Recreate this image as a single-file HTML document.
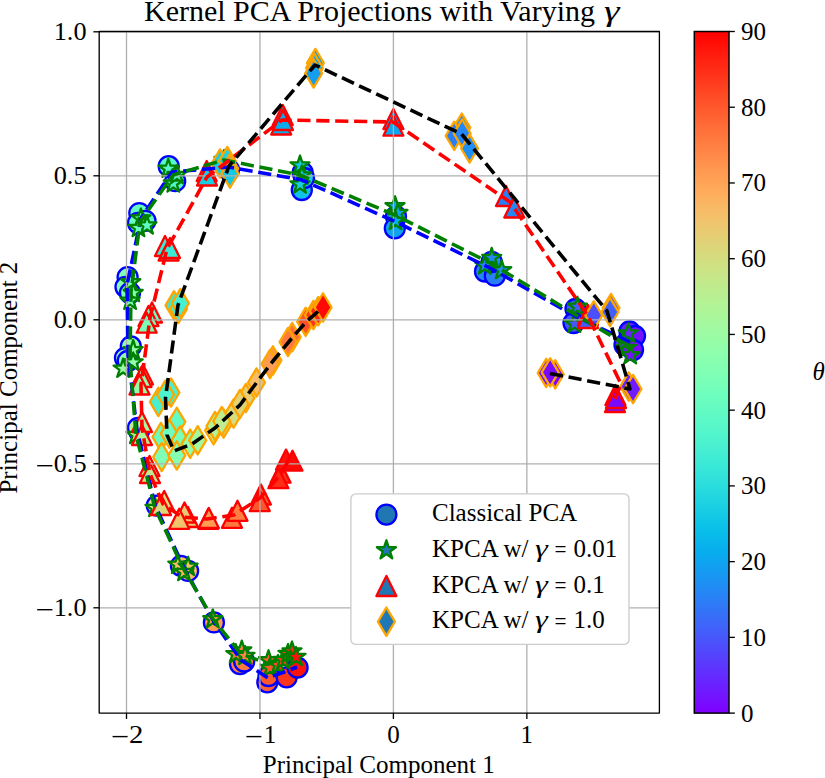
<!DOCTYPE html><html><head><meta charset="utf-8"><style>html,body{margin:0;padding:0;background:#fff;} svg{display:block} text{font-family:'Liberation Serif',serif;fill:#000}</style></head><body>
<svg width="825" height="778" viewBox="0 0 825 778">
<defs>
<clipPath id="ax"><rect x="99.2" y="31.5" width="560.1999999999999" height="681.6"/></clipPath>
<linearGradient id="cb" x1="0" y1="0" x2="0" y2="1"><stop offset="0.0000" stop-color="#ff0000"/><stop offset="0.0333" stop-color="#ff1b0d"/><stop offset="0.0667" stop-color="#ff351b"/><stop offset="0.1000" stop-color="#ff4f28"/><stop offset="0.1333" stop-color="#ff6835"/><stop offset="0.1667" stop-color="#ff7f42"/><stop offset="0.2000" stop-color="#ff964f"/><stop offset="0.2333" stop-color="#ffab5b"/><stop offset="0.2667" stop-color="#f6be68"/><stop offset="0.3000" stop-color="#e5ce74"/><stop offset="0.3333" stop-color="#d4dd80"/><stop offset="0.3667" stop-color="#c3e98b"/><stop offset="0.4000" stop-color="#b2f396"/><stop offset="0.4333" stop-color="#a2f9a0"/><stop offset="0.4667" stop-color="#90feab"/><stop offset="0.5000" stop-color="#80ffb4"/><stop offset="0.5333" stop-color="#6efebe"/><stop offset="0.5667" stop-color="#5ef9c6"/><stop offset="0.6000" stop-color="#4df3ce"/><stop offset="0.6333" stop-color="#3be9d6"/><stop offset="0.6667" stop-color="#2adddd"/><stop offset="0.7000" stop-color="#19cee3"/><stop offset="0.7333" stop-color="#08bee9"/><stop offset="0.7667" stop-color="#08abee"/><stop offset="0.8000" stop-color="#1996f3"/><stop offset="0.8333" stop-color="#2b7ff6"/><stop offset="0.8667" stop-color="#3c68f9"/><stop offset="0.9000" stop-color="#4c4ffc"/><stop offset="0.9333" stop-color="#5e35fe"/><stop offset="0.9667" stop-color="#6e1bff"/><stop offset="1.0000" stop-color="#8000ff"/></linearGradient>
</defs>
<rect width="825" height="778" fill="#fff"/>
<g clip-path="url(#ax)">
<circle cx="629.5" cy="331.5" r="10.00" fill="#6923fe" stroke="#0000ff" stroke-width="2.3"/>
<circle cx="635.0" cy="336.0" r="10.00" fill="#7412ff" stroke="#0000ff" stroke-width="2.3"/>
<circle cx="624.5" cy="345.0" r="10.00" fill="#632cfe" stroke="#0000ff" stroke-width="2.3"/>
<circle cx="633.0" cy="350.0" r="10.00" fill="#7a09ff" stroke="#0000ff" stroke-width="2.3"/>
<circle cx="575.5" cy="309.0" r="10.00" fill="#4160fa" stroke="#0000ff" stroke-width="2.3"/>
<circle cx="573.5" cy="323.0" r="10.00" fill="#4757fb" stroke="#0000ff" stroke-width="2.3"/>
<circle cx="485.0" cy="271.5" r="10.00" fill="#2587f5" stroke="#0000ff" stroke-width="2.3"/>
<circle cx="494.8" cy="275.7" r="10.00" fill="#2b7ff6" stroke="#0000ff" stroke-width="2.3"/>
<circle cx="491.7" cy="262.0" r="10.00" fill="#1f8ff4" stroke="#0000ff" stroke-width="2.3"/>
<circle cx="396.0" cy="216.5" r="10.00" fill="#08abee" stroke="#0000ff" stroke-width="2.3"/>
<circle cx="394.8" cy="228.3" r="10.00" fill="#0ea4f0" stroke="#0000ff" stroke-width="2.3"/>
<circle cx="302.7" cy="172.7" r="10.00" fill="#14c9e5" stroke="#0000ff" stroke-width="2.3"/>
<circle cx="301.8" cy="190.0" r="10.00" fill="#0ec3e7" stroke="#0000ff" stroke-width="2.3"/>
<circle cx="304.0" cy="178.0" r="10.00" fill="#19cee3" stroke="#0000ff" stroke-width="2.3"/>
<circle cx="229.0" cy="170.0" r="10.00" fill="#25d8df" stroke="#0000ff" stroke-width="2.3"/>
<circle cx="168.7" cy="166.2" r="10.00" fill="#58f7c9" stroke="#0000ff" stroke-width="2.3"/>
<circle cx="175.2" cy="181.2" r="10.00" fill="#52f5cc" stroke="#0000ff" stroke-width="2.3"/>
<circle cx="139.3" cy="213.1" r="10.00" fill="#63fbc3" stroke="#0000ff" stroke-width="2.3"/>
<circle cx="145.5" cy="220.8" r="10.00" fill="#5ef9c6" stroke="#0000ff" stroke-width="2.3"/>
<circle cx="138.0" cy="223.0" r="10.00" fill="#69fdc0" stroke="#0000ff" stroke-width="2.3"/>
<circle cx="127.6" cy="277.2" r="10.00" fill="#80ffb4" stroke="#0000ff" stroke-width="2.3"/>
<circle cx="125.5" cy="287.0" r="10.00" fill="#85ffb1" stroke="#0000ff" stroke-width="2.3"/>
<circle cx="130.0" cy="293.0" r="10.00" fill="#7affb7" stroke="#0000ff" stroke-width="2.3"/>
<circle cx="130.8" cy="346.4" r="10.00" fill="#96fda7" stroke="#0000ff" stroke-width="2.3"/>
<circle cx="125.0" cy="358.0" r="10.00" fill="#9cfba4" stroke="#0000ff" stroke-width="2.3"/>
<circle cx="127.8" cy="361.0" r="10.00" fill="#90feab" stroke="#0000ff" stroke-width="2.3"/>
<circle cx="139.0" cy="431.0" r="10.00" fill="#b2f396" stroke="#0000ff" stroke-width="2.3"/>
<circle cx="138.0" cy="428.0" r="10.00" fill="#b8f092" stroke="#0000ff" stroke-width="2.3"/>
<circle cx="156.8" cy="505.6" r="10.00" fill="#cfe183" stroke="#0000ff" stroke-width="2.3"/>
<circle cx="180.9" cy="565.8" r="10.00" fill="#f6be68" stroke="#0000ff" stroke-width="2.3"/>
<circle cx="188.1" cy="570.9" r="10.00" fill="#fcb764" stroke="#0000ff" stroke-width="2.3"/>
<circle cx="213.9" cy="622.4" r="10.00" fill="#ff9d53" stroke="#0000ff" stroke-width="2.3"/>
<circle cx="240.0" cy="664.0" r="10.00" fill="#ff7f42" stroke="#0000ff" stroke-width="2.3"/>
<circle cx="244.2" cy="661.5" r="10.00" fill="#ff783e" stroke="#0000ff" stroke-width="2.3"/>
<circle cx="267.3" cy="682.3" r="10.00" fill="#ff6031" stroke="#0000ff" stroke-width="2.3"/>
<circle cx="268.5" cy="676.0" r="10.00" fill="#ff572c" stroke="#0000ff" stroke-width="2.3"/>
<circle cx="286.7" cy="677.3" r="10.00" fill="#ff351b" stroke="#0000ff" stroke-width="2.3"/>
<circle cx="297.6" cy="667.6" r="10.00" fill="#ff1209" stroke="#0000ff" stroke-width="2.3"/>
<path d="M628.30,323.50 L626.05,330.41 L618.79,330.41 L624.67,334.68 L622.42,341.59 L628.30,337.32 L634.18,341.59 L631.93,334.68 L637.81,330.41 L630.55,330.41 Z" fill="#6923fe" stroke="#008000" stroke-width="2.3" stroke-linejoin="round"/>
<path d="M626.50,338.00 L624.25,344.91 L616.99,344.91 L622.87,349.18 L620.62,356.09 L626.50,351.82 L632.38,356.09 L630.13,349.18 L636.01,344.91 L628.75,344.91 Z" fill="#6e1bff" stroke="#008000" stroke-width="2.3" stroke-linejoin="round"/>
<path d="M630.20,345.30 L627.95,352.21 L620.69,352.21 L626.57,356.48 L624.32,363.39 L630.20,359.12 L636.08,363.39 L633.83,356.48 L639.71,352.21 L632.45,352.21 Z" fill="#7412ff" stroke="#008000" stroke-width="2.3" stroke-linejoin="round"/>
<path d="M624.00,332.00 L621.75,338.91 L614.49,338.91 L620.37,343.18 L618.12,350.09 L624.00,345.82 L629.88,350.09 L627.63,343.18 L633.51,338.91 L626.25,338.91 Z" fill="#632cfe" stroke="#008000" stroke-width="2.3" stroke-linejoin="round"/>
<path d="M577.40,296.80 L575.15,303.71 L567.89,303.71 L573.77,307.98 L571.52,314.89 L577.40,310.62 L583.28,314.89 L581.03,307.98 L586.91,303.71 L579.65,303.71 Z" fill="#4160fa" stroke="#008000" stroke-width="2.3" stroke-linejoin="round"/>
<path d="M574.40,313.80 L572.15,320.71 L564.89,320.71 L570.77,324.98 L568.52,331.89 L574.40,327.62 L580.28,331.89 L578.03,324.98 L583.91,320.71 L576.65,320.71 Z" fill="#4757fb" stroke="#008000" stroke-width="2.3" stroke-linejoin="round"/>
<path d="M491.70,247.90 L489.45,254.81 L482.19,254.81 L488.07,259.08 L485.82,265.99 L491.70,261.72 L497.58,265.99 L495.33,259.08 L501.21,254.81 L493.95,254.81 Z" fill="#2587f5" stroke="#008000" stroke-width="2.3" stroke-linejoin="round"/>
<path d="M484.70,255.60 L482.45,262.51 L475.19,262.51 L481.07,266.78 L478.82,273.69 L484.70,269.42 L490.58,273.69 L488.33,266.78 L494.21,262.51 L486.95,262.51 Z" fill="#2b7ff6" stroke="#008000" stroke-width="2.3" stroke-linejoin="round"/>
<path d="M501.70,260.30 L499.45,267.21 L492.19,267.21 L498.07,271.48 L495.82,278.39 L501.70,274.12 L507.58,278.39 L505.33,271.48 L511.21,267.21 L503.95,267.21 Z" fill="#1f8ff4" stroke="#008000" stroke-width="2.3" stroke-linejoin="round"/>
<path d="M395.00,196.30 L392.75,203.21 L385.49,203.21 L391.37,207.48 L389.12,214.39 L395.00,210.12 L400.88,214.39 L398.63,207.48 L404.51,203.21 L397.25,203.21 Z" fill="#08abee" stroke="#008000" stroke-width="2.3" stroke-linejoin="round"/>
<path d="M398.00,203.00 L395.75,209.91 L388.49,209.91 L394.37,214.18 L392.12,221.09 L398.00,216.82 L403.88,221.09 L401.63,214.18 L407.51,209.91 L400.25,209.91 Z" fill="#0ea4f0" stroke="#008000" stroke-width="2.3" stroke-linejoin="round"/>
<path d="M395.50,211.00 L393.25,217.91 L385.99,217.91 L391.87,222.18 L389.62,229.09 L395.50,224.82 L401.38,229.09 L399.13,222.18 L405.01,217.91 L397.75,217.91 Z" fill="#03b1ec" stroke="#008000" stroke-width="2.3" stroke-linejoin="round"/>
<path d="M300.00,155.50 L297.75,162.41 L290.49,162.41 L296.37,166.68 L294.12,173.59 L300.00,169.32 L305.88,173.59 L303.63,166.68 L309.51,162.41 L302.25,162.41 Z" fill="#14c9e5" stroke="#008000" stroke-width="2.3" stroke-linejoin="round"/>
<path d="M301.80,165.50 L299.55,172.41 L292.29,172.41 L298.17,176.68 L295.92,183.59 L301.80,179.32 L307.68,183.59 L305.43,176.68 L311.31,172.41 L304.05,172.41 Z" fill="#0ec3e7" stroke="#008000" stroke-width="2.3" stroke-linejoin="round"/>
<path d="M300.00,174.50 L297.75,181.41 L290.49,181.41 L296.37,185.68 L294.12,192.59 L300.00,188.32 L305.88,192.59 L303.63,185.68 L309.51,181.41 L302.25,181.41 Z" fill="#19cee3" stroke="#008000" stroke-width="2.3" stroke-linejoin="round"/>
<path d="M224.00,150.00 L221.75,156.91 L214.49,156.91 L220.37,161.18 L218.12,168.09 L224.00,163.82 L229.88,168.09 L227.63,161.18 L233.51,156.91 L226.25,156.91 Z" fill="#25d8df" stroke="#008000" stroke-width="2.3" stroke-linejoin="round"/>
<path d="M168.30,158.80 L166.05,165.71 L158.79,165.71 L164.67,169.98 L162.42,176.89 L168.30,172.62 L174.18,176.89 L171.93,169.98 L177.81,165.71 L170.55,165.71 Z" fill="#58f7c9" stroke="#008000" stroke-width="2.3" stroke-linejoin="round"/>
<path d="M173.30,173.60 L171.05,180.51 L163.79,180.51 L169.67,184.78 L167.42,191.69 L173.30,187.42 L179.18,191.69 L176.93,184.78 L182.81,180.51 L175.55,180.51 Z" fill="#52f5cc" stroke="#008000" stroke-width="2.3" stroke-linejoin="round"/>
<path d="M177.00,165.00 L174.75,171.91 L167.49,171.91 L173.37,176.18 L171.12,183.09 L177.00,178.82 L182.88,183.09 L180.63,176.18 L186.51,171.91 L179.25,171.91 Z" fill="#4df3ce" stroke="#008000" stroke-width="2.3" stroke-linejoin="round"/>
<path d="M140.90,208.50 L138.65,215.41 L131.39,215.41 L137.27,219.68 L135.02,226.59 L140.90,222.32 L146.78,226.59 L144.53,219.68 L150.41,215.41 L143.15,215.41 Z" fill="#63fbc3" stroke="#008000" stroke-width="2.3" stroke-linejoin="round"/>
<path d="M138.50,218.00 L136.25,224.91 L128.99,224.91 L134.87,229.18 L132.62,236.09 L138.50,231.82 L144.38,236.09 L142.13,229.18 L148.01,224.91 L140.75,224.91 Z" fill="#69fdc0" stroke="#008000" stroke-width="2.3" stroke-linejoin="round"/>
<path d="M147.00,215.50 L144.75,222.41 L137.49,222.41 L143.37,226.68 L141.12,233.59 L147.00,229.32 L152.88,233.59 L150.63,226.68 L156.51,222.41 L149.25,222.41 Z" fill="#5ef9c6" stroke="#008000" stroke-width="2.3" stroke-linejoin="round"/>
<path d="M130.80,272.30 L128.55,279.21 L121.29,279.21 L127.17,283.48 L124.92,290.39 L130.80,286.12 L136.68,290.39 L134.43,283.48 L140.31,279.21 L133.05,279.21 Z" fill="#80ffb4" stroke="#008000" stroke-width="2.3" stroke-linejoin="round"/>
<path d="M133.20,283.10 L130.95,290.01 L123.69,290.01 L129.57,294.28 L127.32,301.19 L133.20,296.92 L139.08,301.19 L136.83,294.28 L142.71,290.01 L135.45,290.01 Z" fill="#85ffb1" stroke="#008000" stroke-width="2.3" stroke-linejoin="round"/>
<path d="M130.10,290.80 L127.85,297.71 L120.59,297.71 L126.47,301.98 L124.22,308.89 L130.10,304.62 L135.98,308.89 L133.73,301.98 L139.61,297.71 L132.35,297.71 Z" fill="#7affb7" stroke="#008000" stroke-width="2.3" stroke-linejoin="round"/>
<path d="M133.20,340.20 L130.95,347.11 L123.69,347.11 L129.57,351.38 L127.32,358.29 L133.20,354.02 L139.08,358.29 L136.83,351.38 L142.71,347.11 L135.45,347.11 Z" fill="#96fda7" stroke="#008000" stroke-width="2.3" stroke-linejoin="round"/>
<path d="M133.20,352.50 L130.95,359.41 L123.69,359.41 L129.57,363.68 L127.32,370.59 L133.20,366.32 L139.08,370.59 L136.83,363.68 L142.71,359.41 L135.45,359.41 Z" fill="#90feab" stroke="#008000" stroke-width="2.3" stroke-linejoin="round"/>
<path d="M123.10,358.70 L120.85,365.61 L113.59,365.61 L119.47,369.88 L117.22,376.79 L123.10,372.52 L128.98,376.79 L126.73,369.88 L132.61,365.61 L125.35,365.61 Z" fill="#9cfba4" stroke="#008000" stroke-width="2.3" stroke-linejoin="round"/>
<path d="M136.00,425.00 L133.75,431.91 L126.49,431.91 L132.37,436.18 L130.12,443.09 L136.00,438.82 L141.88,443.09 L139.63,436.18 L145.51,431.91 L138.25,431.91 Z" fill="#b2f396" stroke="#008000" stroke-width="2.3" stroke-linejoin="round"/>
<path d="M155.00,498.00 L152.75,504.91 L145.49,504.91 L151.37,509.18 L149.12,516.09 L155.00,511.82 L160.88,516.09 L158.63,509.18 L164.51,504.91 L157.25,504.91 Z" fill="#cfe183" stroke="#008000" stroke-width="2.3" stroke-linejoin="round"/>
<path d="M177.80,554.70 L175.55,561.61 L168.29,561.61 L174.17,565.88 L171.92,572.79 L177.80,568.52 L183.68,572.79 L181.43,565.88 L187.31,561.61 L180.05,561.61 Z" fill="#f6be68" stroke="#008000" stroke-width="2.3" stroke-linejoin="round"/>
<path d="M188.10,556.80 L185.85,563.71 L178.59,563.71 L184.47,567.98 L182.22,574.89 L188.10,570.62 L193.98,574.89 L191.73,567.98 L197.61,563.71 L190.35,563.71 Z" fill="#f1c36c" stroke="#008000" stroke-width="2.3" stroke-linejoin="round"/>
<path d="M184.00,562.00 L181.75,568.91 L174.49,568.91 L180.37,573.18 L178.12,580.09 L184.00,575.82 L189.88,580.09 L187.63,573.18 L193.51,568.91 L186.25,568.91 Z" fill="#fcb764" stroke="#008000" stroke-width="2.3" stroke-linejoin="round"/>
<path d="M212.80,609.30 L210.55,616.21 L203.29,616.21 L209.17,620.48 L206.92,627.39 L212.80,623.12 L218.68,627.39 L216.43,620.48 L222.31,616.21 L215.05,616.21 Z" fill="#ff9d53" stroke="#008000" stroke-width="2.3" stroke-linejoin="round"/>
<path d="M241.80,640.60 L239.55,647.51 L232.29,647.51 L238.17,651.78 L235.92,658.69 L241.80,654.42 L247.68,658.69 L245.43,651.78 L251.31,647.51 L244.05,647.51 Z" fill="#ff7f42" stroke="#008000" stroke-width="2.3" stroke-linejoin="round"/>
<path d="M235.80,644.20 L233.55,651.11 L226.29,651.11 L232.17,655.38 L229.92,662.29 L235.80,658.02 L241.68,662.29 L239.43,655.38 L245.31,651.11 L238.05,651.11 Z" fill="#ff783e" stroke="#008000" stroke-width="2.3" stroke-linejoin="round"/>
<path d="M245.00,646.00 L242.75,652.91 L235.49,652.91 L241.37,657.18 L239.12,664.09 L245.00,659.82 L250.88,664.09 L248.63,657.18 L254.51,652.91 L247.25,652.91 Z" fill="#ff8746" stroke="#008000" stroke-width="2.3" stroke-linejoin="round"/>
<path d="M268.50,650.30 L266.25,657.21 L258.99,657.21 L264.87,661.48 L262.62,668.39 L268.50,664.12 L274.38,668.39 L272.13,661.48 L278.01,657.21 L270.75,657.21 Z" fill="#ff6031" stroke="#008000" stroke-width="2.3" stroke-linejoin="round"/>
<path d="M270.00,658.00 L267.75,664.91 L260.49,664.91 L266.37,669.18 L264.12,676.09 L270.00,671.82 L275.88,676.09 L273.63,669.18 L279.51,664.91 L272.25,664.91 Z" fill="#ff572c" stroke="#008000" stroke-width="2.3" stroke-linejoin="round"/>
<path d="M278.00,655.00 L275.75,661.91 L268.49,661.91 L274.37,666.18 L272.12,673.09 L278.00,668.82 L283.88,673.09 L281.63,666.18 L287.51,661.91 L280.25,661.91 Z" fill="#ff4623" stroke="#008000" stroke-width="2.3" stroke-linejoin="round"/>
<path d="M283.00,650.00 L280.75,656.91 L273.49,656.91 L279.37,661.18 L277.12,668.09 L283.00,663.82 L288.88,668.09 L286.63,661.18 L292.51,656.91 L285.25,656.91 Z" fill="#ff3e1f" stroke="#008000" stroke-width="2.3" stroke-linejoin="round"/>
<path d="M288.00,644.00 L285.75,650.91 L278.49,650.91 L284.37,655.18 L282.12,662.09 L288.00,657.82 L293.88,662.09 L291.63,655.18 L297.51,650.91 L290.25,650.91 Z" fill="#ff351b" stroke="#008000" stroke-width="2.3" stroke-linejoin="round"/>
<path d="M292.00,641.50 L289.75,648.41 L282.49,648.41 L288.37,652.68 L286.12,659.59 L292.00,655.32 L297.88,659.59 L295.63,652.68 L301.51,648.41 L294.25,648.41 Z" fill="#ff2c16" stroke="#008000" stroke-width="2.3" stroke-linejoin="round"/>
<path d="M296.00,647.00 L293.75,653.91 L286.49,653.91 L292.37,658.18 L290.12,665.09 L296.00,660.82 L301.88,665.09 L299.63,658.18 L305.51,653.91 L298.25,653.91 Z" fill="#ff1209" stroke="#008000" stroke-width="2.3" stroke-linejoin="round"/>
<path d="M615.40,385.00 L605.40,405.00 L625.40,405.00 Z" fill="#6e1bff" stroke="#ff0000" stroke-width="2.3" stroke-linejoin="round"/>
<path d="M615.00,392.00 L605.00,412.00 L625.00,412.00 Z" fill="#7412ff" stroke="#ff0000" stroke-width="2.3" stroke-linejoin="round"/>
<path d="M616.00,388.00 L606.00,408.00 L626.00,408.00 Z" fill="#7a09ff" stroke="#ff0000" stroke-width="2.3" stroke-linejoin="round"/>
<path d="M588.00,305.00 L578.00,325.00 L598.00,325.00 Z" fill="#4757fb" stroke="#ff0000" stroke-width="2.3" stroke-linejoin="round"/>
<path d="M588.00,308.00 L578.00,328.00 L598.00,328.00 Z" fill="#4160fa" stroke="#ff0000" stroke-width="2.3" stroke-linejoin="round"/>
<path d="M506.00,186.00 L496.00,206.00 L516.00,206.00 Z" fill="#2b7ff6" stroke="#ff0000" stroke-width="2.3" stroke-linejoin="round"/>
<path d="M514.30,197.50 L504.30,217.50 L524.30,217.50 Z" fill="#2587f5" stroke="#ff0000" stroke-width="2.3" stroke-linejoin="round"/>
<path d="M393.40,109.00 L383.40,129.00 L403.40,129.00 Z" fill="#149df1" stroke="#ff0000" stroke-width="2.3" stroke-linejoin="round"/>
<path d="M393.40,115.70 L383.40,135.70 L403.40,135.70 Z" fill="#0ea4f0" stroke="#ff0000" stroke-width="2.3" stroke-linejoin="round"/>
<path d="M282.80,105.00 L272.80,125.00 L292.80,125.00 Z" fill="#08abee" stroke="#ff0000" stroke-width="2.3" stroke-linejoin="round"/>
<path d="M281.20,114.50 L271.20,134.50 L291.20,134.50 Z" fill="#03b1ec" stroke="#ff0000" stroke-width="2.3" stroke-linejoin="round"/>
<path d="M283.00,110.00 L273.00,130.00 L293.00,130.00 Z" fill="#08abee" stroke="#ff0000" stroke-width="2.3" stroke-linejoin="round"/>
<path d="M206.70,161.00 L196.70,181.00 L216.70,181.00 Z" fill="#14c9e5" stroke="#ff0000" stroke-width="2.3" stroke-linejoin="round"/>
<path d="M207.00,165.50 L197.00,185.50 L217.00,185.50 Z" fill="#19cee3" stroke="#ff0000" stroke-width="2.3" stroke-linejoin="round"/>
<path d="M165.00,236.00 L155.00,256.00 L175.00,256.00 Z" fill="#3be9d6" stroke="#ff0000" stroke-width="2.3" stroke-linejoin="round"/>
<path d="M168.60,240.50 L158.60,260.50 L178.60,260.50 Z" fill="#41ecd3" stroke="#ff0000" stroke-width="2.3" stroke-linejoin="round"/>
<path d="M170.00,238.00 L160.00,258.00 L180.00,258.00 Z" fill="#3be9d6" stroke="#ff0000" stroke-width="2.3" stroke-linejoin="round"/>
<path d="M152.00,302.50 L142.00,322.50 L162.00,322.50 Z" fill="#6efebe" stroke="#ff0000" stroke-width="2.3" stroke-linejoin="round"/>
<path d="M148.50,306.00 L138.50,326.00 L158.50,326.00 Z" fill="#74feba" stroke="#ff0000" stroke-width="2.3" stroke-linejoin="round"/>
<path d="M146.70,312.70 L136.70,332.70 L156.70,332.70 Z" fill="#7affb7" stroke="#ff0000" stroke-width="2.3" stroke-linejoin="round"/>
<path d="M143.00,364.50 L133.00,384.50 L153.00,384.50 Z" fill="#8bfeae" stroke="#ff0000" stroke-width="2.3" stroke-linejoin="round"/>
<path d="M141.50,367.00 L131.50,387.00 L151.50,387.00 Z" fill="#90feab" stroke="#ff0000" stroke-width="2.3" stroke-linejoin="round"/>
<path d="M139.50,374.50 L129.50,394.50 L149.50,394.50 Z" fill="#96fda7" stroke="#ff0000" stroke-width="2.3" stroke-linejoin="round"/>
<path d="M142.00,412.00 L132.00,432.00 L152.00,432.00 Z" fill="#a7f79d" stroke="#ff0000" stroke-width="2.3" stroke-linejoin="round"/>
<path d="M142.00,425.00 L132.00,445.00 L152.00,445.00 Z" fill="#adf599" stroke="#ff0000" stroke-width="2.3" stroke-linejoin="round"/>
<path d="M149.50,456.00 L139.50,476.00 L159.50,476.00 Z" fill="#b8f092" stroke="#ff0000" stroke-width="2.3" stroke-linejoin="round"/>
<path d="M150.00,463.00 L140.00,483.00 L160.00,483.00 Z" fill="#beec8f" stroke="#ff0000" stroke-width="2.3" stroke-linejoin="round"/>
<path d="M164.20,491.00 L154.20,511.00 L174.20,511.00 Z" fill="#d4dd80" stroke="#ff0000" stroke-width="2.3" stroke-linejoin="round"/>
<path d="M161.00,495.00 L151.00,515.00 L171.00,515.00 Z" fill="#dad87c" stroke="#ff0000" stroke-width="2.3" stroke-linejoin="round"/>
<path d="M188.00,507.00 L178.00,527.00 L198.00,527.00 Z" fill="#ebc970" stroke="#ff0000" stroke-width="2.3" stroke-linejoin="round"/>
<path d="M184.50,502.50 L174.50,522.50 L194.50,522.50 Z" fill="#ebc970" stroke="#ff0000" stroke-width="2.3" stroke-linejoin="round"/>
<path d="M179.20,508.80 L169.20,528.80 L189.20,528.80 Z" fill="#f1c36c" stroke="#ff0000" stroke-width="2.3" stroke-linejoin="round"/>
<path d="M208.30,508.80 L198.30,528.80 L218.30,528.80 Z" fill="#ffa457" stroke="#ff0000" stroke-width="2.3" stroke-linejoin="round"/>
<path d="M208.80,508.00 L198.80,528.00 L218.80,528.00 Z" fill="#ff9d53" stroke="#ff0000" stroke-width="2.3" stroke-linejoin="round"/>
<path d="M232.00,507.80 L222.00,527.80 L242.00,527.80 Z" fill="#ff783e" stroke="#ff0000" stroke-width="2.3" stroke-linejoin="round"/>
<path d="M237.50,500.80 L227.50,520.80 L247.50,520.80 Z" fill="#ff7f42" stroke="#ff0000" stroke-width="2.3" stroke-linejoin="round"/>
<path d="M260.90,484.50 L250.90,504.50 L270.90,504.50 Z" fill="#ff6031" stroke="#ff0000" stroke-width="2.3" stroke-linejoin="round"/>
<path d="M259.80,491.10 L249.80,511.10 L269.80,511.10 Z" fill="#ff572c" stroke="#ff0000" stroke-width="2.3" stroke-linejoin="round"/>
<path d="M280.60,462.70 L270.60,482.70 L290.60,482.70 Z" fill="#ff351b" stroke="#ff0000" stroke-width="2.3" stroke-linejoin="round"/>
<path d="M278.40,468.20 L268.40,488.20 L288.40,488.20 Z" fill="#ff2c16" stroke="#ff0000" stroke-width="2.3" stroke-linejoin="round"/>
<path d="M286.00,449.60 L276.00,469.60 L296.00,469.60 Z" fill="#ff1209" stroke="#ff0000" stroke-width="2.3" stroke-linejoin="round"/>
<path d="M292.50,450.70 L282.50,470.70 L302.50,470.70 Z" fill="#ff0904" stroke="#ff0000" stroke-width="2.3" stroke-linejoin="round"/>
<path d="M546.20,358.86 L554.69,373.00 L546.20,387.14 L537.71,373.00 Z" fill="#7412ff" stroke="#ffa500" stroke-width="2.3" stroke-linejoin="round"/>
<path d="M555.20,360.16 L563.69,374.30 L555.20,388.44 L546.71,374.30 Z" fill="#8000ff" stroke="#ffa500" stroke-width="2.3" stroke-linejoin="round"/>
<path d="M550.20,358.16 L558.69,372.30 L550.20,386.44 L541.71,372.30 Z" fill="#7a09ff" stroke="#ffa500" stroke-width="2.3" stroke-linejoin="round"/>
<path d="M628.70,372.46 L637.19,386.60 L628.70,400.74 L620.21,386.60 Z" fill="#6923fe" stroke="#ffa500" stroke-width="2.3" stroke-linejoin="round"/>
<path d="M633.00,374.86 L641.49,389.00 L633.00,403.14 L624.51,389.00 Z" fill="#6e1bff" stroke="#ffa500" stroke-width="2.3" stroke-linejoin="round"/>
<path d="M593.80,301.16 L602.29,315.30 L593.80,329.44 L585.31,315.30 Z" fill="#4c4ffc" stroke="#ffa500" stroke-width="2.3" stroke-linejoin="round"/>
<path d="M611.00,293.86 L619.49,308.00 L611.00,322.14 L602.51,308.00 Z" fill="#4757fb" stroke="#ffa500" stroke-width="2.3" stroke-linejoin="round"/>
<path d="M610.00,297.86 L618.49,312.00 L610.00,326.14 L601.51,312.00 Z" fill="#4160fa" stroke="#ffa500" stroke-width="2.3" stroke-linejoin="round"/>
<path d="M461.80,113.56 L470.29,127.70 L461.80,141.84 L453.31,127.70 Z" fill="#2587f5" stroke="#ffa500" stroke-width="2.3" stroke-linejoin="round"/>
<path d="M454.20,121.66 L462.69,135.80 L454.20,149.94 L445.71,135.80 Z" fill="#2b7ff6" stroke="#ffa500" stroke-width="2.3" stroke-linejoin="round"/>
<path d="M462.20,119.36 L470.69,133.50 L462.20,147.64 L453.71,133.50 Z" fill="#2587f5" stroke="#ffa500" stroke-width="2.3" stroke-linejoin="round"/>
<path d="M469.60,134.36 L478.09,148.50 L469.60,162.64 L461.11,148.50 Z" fill="#1f8ff4" stroke="#ffa500" stroke-width="2.3" stroke-linejoin="round"/>
<path d="M315.40,48.86 L323.89,63.00 L315.40,77.14 L306.91,63.00 Z" fill="#0ea4f0" stroke="#ffa500" stroke-width="2.3" stroke-linejoin="round"/>
<path d="M314.50,53.86 L322.99,68.00 L314.50,82.14 L306.01,68.00 Z" fill="#08abee" stroke="#ffa500" stroke-width="2.3" stroke-linejoin="round"/>
<path d="M313.60,59.26 L322.09,73.40 L313.60,87.54 L305.11,73.40 Z" fill="#149df1" stroke="#ffa500" stroke-width="2.3" stroke-linejoin="round"/>
<path d="M220.00,149.36 L228.49,163.50 L220.00,177.64 L211.51,163.50 Z" fill="#19cee3" stroke="#ffa500" stroke-width="2.3" stroke-linejoin="round"/>
<path d="M227.30,146.86 L235.79,161.00 L227.30,175.14 L218.81,161.00 Z" fill="#1fd3e1" stroke="#ffa500" stroke-width="2.3" stroke-linejoin="round"/>
<path d="M229.70,154.46 L238.19,168.60 L229.70,182.74 L221.21,168.60 Z" fill="#25d8df" stroke="#ffa500" stroke-width="2.3" stroke-linejoin="round"/>
<path d="M230.00,159.46 L238.49,173.60 L230.00,187.74 L221.51,173.60 Z" fill="#14c9e5" stroke="#ffa500" stroke-width="2.3" stroke-linejoin="round"/>
<path d="M174.00,291.16 L182.49,305.30 L174.00,319.44 L165.51,305.30 Z" fill="#3be9d6" stroke="#ffa500" stroke-width="2.3" stroke-linejoin="round"/>
<path d="M178.50,294.66 L186.99,308.80 L178.50,322.94 L170.01,308.80 Z" fill="#41ecd3" stroke="#ffa500" stroke-width="2.3" stroke-linejoin="round"/>
<path d="M180.40,288.96 L188.89,303.10 L180.40,317.24 L171.91,303.10 Z" fill="#47f0d1" stroke="#ffa500" stroke-width="2.3" stroke-linejoin="round"/>
<path d="M158.40,387.76 L166.89,401.90 L158.40,416.04 L149.91,401.90 Z" fill="#47f0d1" stroke="#ffa500" stroke-width="2.3" stroke-linejoin="round"/>
<path d="M171.00,378.36 L179.49,392.50 L171.00,406.64 L162.51,392.50 Z" fill="#47f0d1" stroke="#ffa500" stroke-width="2.3" stroke-linejoin="round"/>
<path d="M165.50,380.36 L173.99,394.50 L165.50,408.64 L157.01,394.50 Z" fill="#4df3ce" stroke="#ffa500" stroke-width="2.3" stroke-linejoin="round"/>
<path d="M176.80,407.76 L185.29,421.90 L176.80,436.04 L168.31,421.90 Z" fill="#63fbc3" stroke="#ffa500" stroke-width="2.3" stroke-linejoin="round"/>
<path d="M160.90,422.86 L169.39,437.00 L160.90,451.14 L152.41,437.00 Z" fill="#69fdc0" stroke="#ffa500" stroke-width="2.3" stroke-linejoin="round"/>
<path d="M169.30,419.46 L177.79,433.60 L169.30,447.74 L160.81,433.60 Z" fill="#6efebe" stroke="#ffa500" stroke-width="2.3" stroke-linejoin="round"/>
<path d="M180.10,426.16 L188.59,440.30 L180.10,454.44 L171.61,440.30 Z" fill="#7affb7" stroke="#ffa500" stroke-width="2.3" stroke-linejoin="round"/>
<path d="M161.70,442.86 L170.19,457.00 L161.70,471.14 L153.21,457.00 Z" fill="#80ffb4" stroke="#ffa500" stroke-width="2.3" stroke-linejoin="round"/>
<path d="M176.80,441.26 L185.29,455.40 L176.80,469.54 L168.31,455.40 Z" fill="#85ffb1" stroke="#ffa500" stroke-width="2.3" stroke-linejoin="round"/>
<path d="M190.20,429.56 L198.69,443.70 L190.20,457.84 L181.71,443.70 Z" fill="#96fda7" stroke="#ffa500" stroke-width="2.3" stroke-linejoin="round"/>
<path d="M197.70,426.16 L206.19,440.30 L197.70,454.44 L189.21,440.30 Z" fill="#a2f9a0" stroke="#ffa500" stroke-width="2.3" stroke-linejoin="round"/>
<path d="M213.60,416.16 L222.09,430.30 L213.60,444.44 L205.11,430.30 Z" fill="#b8f092" stroke="#ffa500" stroke-width="2.3" stroke-linejoin="round"/>
<path d="M223.60,409.46 L232.09,423.60 L223.60,437.74 L215.11,423.60 Z" fill="#c9e587" stroke="#ffa500" stroke-width="2.3" stroke-linejoin="round"/>
<path d="M233.60,399.46 L242.09,413.60 L233.60,427.74 L225.11,413.60 Z" fill="#d4dd80" stroke="#ffa500" stroke-width="2.3" stroke-linejoin="round"/>
<path d="M215.00,411.86 L223.49,426.00 L215.00,440.14 L206.51,426.00 Z" fill="#b2f396" stroke="#ffa500" stroke-width="2.3" stroke-linejoin="round"/>
<path d="M221.80,406.96 L230.29,421.10 L221.80,435.24 L213.31,421.10 Z" fill="#beec8f" stroke="#ffa500" stroke-width="2.3" stroke-linejoin="round"/>
<path d="M245.90,383.86 L254.39,398.00 L245.90,412.14 L237.41,398.00 Z" fill="#e5ce74" stroke="#ffa500" stroke-width="2.3" stroke-linejoin="round"/>
<path d="M256.50,368.36 L264.99,382.50 L256.50,396.64 L248.01,382.50 Z" fill="#f6be68" stroke="#ffa500" stroke-width="2.3" stroke-linejoin="round"/>
<path d="M240.00,389.86 L248.49,404.00 L240.00,418.14 L231.51,404.00 Z" fill="#e0d378" stroke="#ffa500" stroke-width="2.3" stroke-linejoin="round"/>
<path d="M272.90,346.26 L281.39,360.40 L272.90,374.54 L264.41,360.40 Z" fill="#ff964f" stroke="#ffa500" stroke-width="2.3" stroke-linejoin="round"/>
<path d="M270.00,349.86 L278.49,364.00 L270.00,378.14 L261.51,364.00 Z" fill="#ff9d53" stroke="#ffa500" stroke-width="2.3" stroke-linejoin="round"/>
<path d="M292.20,323.06 L300.69,337.20 L292.20,351.34 L283.71,337.20 Z" fill="#ff7039" stroke="#ffa500" stroke-width="2.3" stroke-linejoin="round"/>
<path d="M288.00,327.86 L296.49,342.00 L288.00,356.14 L279.51,342.00 Z" fill="#ff783e" stroke="#ffa500" stroke-width="2.3" stroke-linejoin="round"/>
<path d="M305.70,307.66 L314.19,321.80 L305.70,335.94 L297.21,321.80 Z" fill="#ff4f28" stroke="#ffa500" stroke-width="2.3" stroke-linejoin="round"/>
<path d="M313.40,300.86 L321.89,315.00 L313.40,329.14 L304.91,315.00 Z" fill="#ff351b" stroke="#ffa500" stroke-width="2.3" stroke-linejoin="round"/>
<path d="M318.20,297.06 L326.69,311.20 L318.20,325.34 L309.71,311.20 Z" fill="#ff2312" stroke="#ffa500" stroke-width="2.3" stroke-linejoin="round"/>
<path d="M323.00,293.26 L331.49,307.40 L323.00,321.54 L314.51,307.40 Z" fill="#ff0904" stroke="#ffa500" stroke-width="2.3" stroke-linejoin="round"/>
</g>
<line x1="126.50" y1="31.5" x2="126.50" y2="713.1" stroke="#b0b0b0" stroke-width="1.33"/>
<line x1="259.95" y1="31.5" x2="259.95" y2="713.1" stroke="#b0b0b0" stroke-width="1.33"/>
<line x1="393.40" y1="31.5" x2="393.40" y2="713.1" stroke="#b0b0b0" stroke-width="1.33"/>
<line x1="526.85" y1="31.5" x2="526.85" y2="713.1" stroke="#b0b0b0" stroke-width="1.33"/>
<line x1="99.2" y1="607.80" x2="659.4" y2="607.80" stroke="#b0b0b0" stroke-width="1.33"/>
<line x1="99.2" y1="463.80" x2="659.4" y2="463.80" stroke="#b0b0b0" stroke-width="1.33"/>
<line x1="99.2" y1="319.80" x2="659.4" y2="319.80" stroke="#b0b0b0" stroke-width="1.33"/>
<line x1="99.2" y1="175.80" x2="659.4" y2="175.80" stroke="#b0b0b0" stroke-width="1.33"/>
<line x1="99.2" y1="31.80" x2="659.4" y2="31.80" stroke="#b0b0b0" stroke-width="1.33"/>
<g clip-path="url(#ax)">
<path d="M630.0,342.0 L575.0,316.0 L490.0,268.0 L395.0,221.5 L302.0,180.0 L229.0,167.0 L172.0,172.0 L141.0,218.0 L127.0,285.0 L128.0,355.0 L137.0,430.0 L155.0,505.0 L184.0,568.0 L214.0,622.0 L241.0,660.0 L268.0,678.0 L287.0,671.0 L297.0,667.0" fill="none" stroke="#0000ff" stroke-width="3.57" stroke-dasharray="13.21 5.71" stroke-linecap="butt" stroke-linejoin="round"/>
<path d="M627.0,345.0 L576.0,315.0 L492.0,264.0 L396.0,215.5 L300.0,175.0 L224.0,160.0 L173.0,175.0 L140.0,222.0 L131.0,292.0 L130.0,360.0 L136.0,435.0 L155.0,508.0 L183.0,568.0 L213.0,619.0 L241.0,654.0 L269.0,664.0 L292.0,651.0" fill="none" stroke="#008000" stroke-width="3.57" stroke-dasharray="13.21 5.71" stroke-linecap="butt" stroke-linejoin="round"/>
<path d="M615.0,399.0 L621.0,384.0 L588.0,316.0 L510.0,202.0 L393.0,122.0 L282.0,120.0 L207.0,177.0 L167.0,249.0 L150.0,318.0 L141.0,385.0 L142.0,428.0 L150.0,474.0 L163.0,504.0 L182.0,517.0 L207.0,519.0 L234.0,515.0 L260.0,498.0 L280.0,475.0 L289.0,460.0" fill="none" stroke="#ff0000" stroke-width="3.57" stroke-dasharray="13.21 5.71" stroke-linecap="butt" stroke-linejoin="round"/>
<path d="M550.0,373.5 L630.0,389.0 L607.0,311.0 L461.5,134.0 L315.0,65.0 L229.0,166.0 L178.0,305.0 L165.5,398.0 L167.0,435.0 L174.0,451.0 L192.0,444.0 L215.0,428.0 L240.0,405.0 L257.0,382.0 L273.0,361.0 L292.0,338.0 L306.0,322.0 L322.0,308.0" fill="none" stroke="#000000" stroke-width="3.57" stroke-dasharray="13.21 5.71" stroke-linecap="butt" stroke-linejoin="round"/>
</g>
<rect x="99.2" y="31.5" width="560.20" height="681.60" fill="none" stroke="#000" stroke-width="1.33" stroke-linejoin="round"/>
<line x1="126.50" y1="713.1" x2="126.50" y2="718.93" stroke="#000" stroke-width="1.33"/>
<rect x="112.6" y="735.90" width="15.00" height="1.4" fill="#000"/>
<text transform="translate(136.1,742.7) scale(1.15,1)" font-size="25" text-anchor="middle">2</text>
<line x1="259.95" y1="713.1" x2="259.95" y2="718.93" stroke="#000" stroke-width="1.33"/>
<rect x="246.4" y="735.90" width="15.00" height="1.4" fill="#000"/>
<text transform="translate(269.9,742.7) scale(1.0,1)" font-size="25" text-anchor="middle">1</text>
<line x1="393.40" y1="713.1" x2="393.40" y2="718.93" stroke="#000" stroke-width="1.33"/>
<text x="393.40" y="742.7" font-size="25" text-anchor="middle">0</text>
<line x1="526.85" y1="713.1" x2="526.85" y2="718.93" stroke="#000" stroke-width="1.33"/>
<text x="526.85" y="742.7" font-size="25" text-anchor="middle">1</text>
<line x1="93.37" y1="607.80" x2="99.2" y2="607.80" stroke="#000" stroke-width="1.33"/>
<rect x="37.2" y="609.00" width="15.20" height="1.4" fill="#000"/>
<text transform="translate(86.5,616.30) scale(1.05,1)" font-size="25" text-anchor="end">1.0</text>
<line x1="93.37" y1="463.80" x2="99.2" y2="463.80" stroke="#000" stroke-width="1.33"/>
<rect x="37.2" y="465.00" width="15.20" height="1.4" fill="#000"/>
<text transform="translate(86.5,472.30) scale(1.05,1)" font-size="25" text-anchor="end">0.5</text>
<line x1="93.37" y1="319.80" x2="99.2" y2="319.80" stroke="#000" stroke-width="1.33"/>
<text transform="translate(86.5,328.30) scale(1.05,1)" font-size="25" text-anchor="end">0.0</text>
<line x1="93.37" y1="175.80" x2="99.2" y2="175.80" stroke="#000" stroke-width="1.33"/>
<text transform="translate(86.5,184.30) scale(1.05,1)" font-size="25" text-anchor="end">0.5</text>
<line x1="93.37" y1="31.80" x2="99.2" y2="31.80" stroke="#000" stroke-width="1.33"/>
<text transform="translate(86.5,40.30) scale(1.05,1)" font-size="25" text-anchor="end">1.0</text>
<text x="378.8" y="772.7" font-size="25" text-anchor="middle">Principal Component 1</text>
<text transform="translate(17.0,377.6) rotate(-90)" font-size="25" text-anchor="middle">Principal Component 2</text>
<text x="144.0" y="21.0" font-size="30.3" textLength="451.0" lengthAdjust="spacingAndGlyphs">Kernel PCA Projections with Varying</text>
<text transform="translate(604.0,21.0) scale(1.3,1)" font-size="30.3" font-style="italic">γ</text>
<rect x="350.9" y="493.8" width="278.1" height="150.6" rx="5" ry="5" fill="#fff" stroke="#cccccc" stroke-width="1.33"/>
<circle cx="386.4" cy="514.6" r="10.00" fill="#1f77b4" stroke="#0000ff" stroke-width="2.3"/>
<path d="M386.40,540.30 L384.15,547.21 L376.89,547.21 L382.77,551.48 L380.52,558.39 L386.40,554.12 L392.28,558.39 L390.03,551.48 L395.91,547.21 L388.65,547.21 Z" fill="#1f77b4" stroke="#008000" stroke-width="2.3" stroke-linejoin="round"/>
<path d="M386.40,576.00 L376.40,596.00 L396.40,596.00 Z" fill="#1f77b4" stroke="#ff0000" stroke-width="2.3" stroke-linejoin="round"/>
<path d="M386.40,607.56 L394.89,621.70 L386.40,635.84 L377.91,621.70 Z" fill="#1f77b4" stroke="#ffa500" stroke-width="2.3" stroke-linejoin="round"/>
<text x="432.0" y="521.10" font-size="25">Classical PCA</text>
<text x="432.0" y="556.80" font-size="25">KPCA w/</text>
<text transform="translate(535.0,556.80) scale(1.3,1)" font-size="25" font-style="italic">γ</text>
<text transform="translate(554.5,558.30) scale(0.85,1)" font-size="25">=</text>
<text x="573.5" y="556.80" font-size="25">0.01</text>
<text x="432.0" y="592.50" font-size="25">KPCA w/</text>
<text transform="translate(535.0,592.50) scale(1.3,1)" font-size="25" font-style="italic">γ</text>
<text transform="translate(554.5,594.00) scale(0.85,1)" font-size="25">=</text>
<text x="573.5" y="592.50" font-size="25">0.1</text>
<text x="432.0" y="628.20" font-size="25">KPCA w/</text>
<text transform="translate(535.0,628.20) scale(1.3,1)" font-size="25" font-style="italic">γ</text>
<text transform="translate(554.5,629.70) scale(0.85,1)" font-size="25">=</text>
<text x="573.5" y="628.20" font-size="25">1.0</text>
<rect x="694.3" y="31.5" width="34.70" height="681.60" fill="url(#cb)" stroke="#000" stroke-width="1.5"/>
<line x1="729.0" y1="713.10" x2="734.83" y2="713.10" stroke="#000" stroke-width="1.33"/>
<text x="741.0" y="721.60" font-size="25">0</text>
<line x1="729.0" y1="637.37" x2="734.83" y2="637.37" stroke="#000" stroke-width="1.33"/>
<text x="741.0" y="645.87" font-size="25">10</text>
<line x1="729.0" y1="561.63" x2="734.83" y2="561.63" stroke="#000" stroke-width="1.33"/>
<text x="741.0" y="570.13" font-size="25">20</text>
<line x1="729.0" y1="485.90" x2="734.83" y2="485.90" stroke="#000" stroke-width="1.33"/>
<text x="741.0" y="494.40" font-size="25">30</text>
<line x1="729.0" y1="410.17" x2="734.83" y2="410.17" stroke="#000" stroke-width="1.33"/>
<text x="741.0" y="418.67" font-size="25">40</text>
<line x1="729.0" y1="334.43" x2="734.83" y2="334.43" stroke="#000" stroke-width="1.33"/>
<text x="741.0" y="342.93" font-size="25">50</text>
<line x1="729.0" y1="258.70" x2="734.83" y2="258.70" stroke="#000" stroke-width="1.33"/>
<text x="741.0" y="267.20" font-size="25">60</text>
<line x1="729.0" y1="182.97" x2="734.83" y2="182.97" stroke="#000" stroke-width="1.33"/>
<text x="741.0" y="191.47" font-size="25">70</text>
<line x1="729.0" y1="107.23" x2="734.83" y2="107.23" stroke="#000" stroke-width="1.33"/>
<text x="741.0" y="115.73" font-size="25">80</text>
<line x1="729.0" y1="31.50" x2="734.83" y2="31.50" stroke="#000" stroke-width="1.33"/>
<text x="741.0" y="40.00" font-size="25">90</text>
<text x="812.5" y="380.0" font-size="25" font-style="italic">θ</text>
</svg></body></html>
